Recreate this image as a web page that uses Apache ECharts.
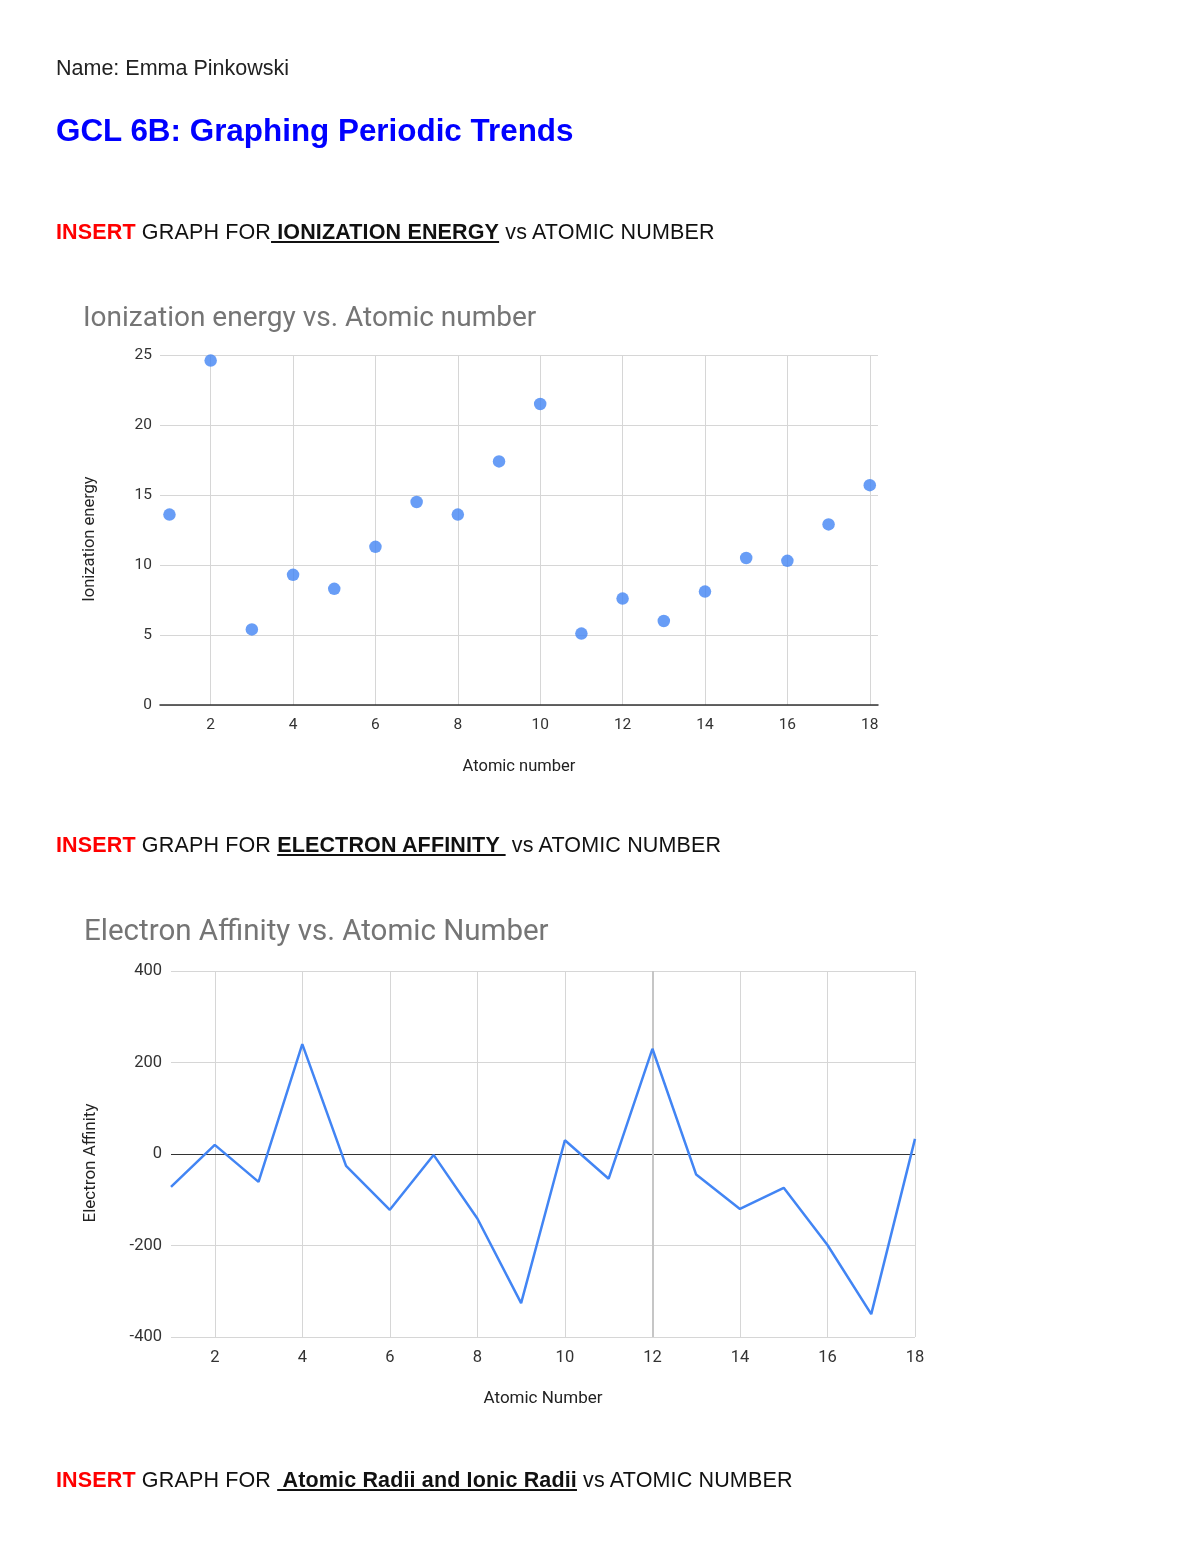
<!DOCTYPE html>
<html>
<head>
<meta charset="utf-8">
<script src="https://cdn.jsdelivr.net/npm/echarts@6/dist/echarts.min.js"></script>
<style>
  html, body { margin: 0; padding: 0; background: #fff; width: 1200px; height: 1553px; overflow: hidden; }
  #chart { position: absolute; left: 0; top: 0; width: 1200px; height: 1553px; }
  .t { position: absolute; left: 56px; font-family: "Liberation Sans", Arial, sans-serif; font-size: 21.5px; line-height: 24px; color: #111; white-space: pre; z-index: 2; }
  .ins { letter-spacing: 0.15px; }
  .title { font-size: 31.4px; line-height: 36px; font-weight: bold; color: #0000ff; }
  .red { color: #ff0000; font-weight: bold; }
  .u { font-weight: bold; text-decoration: underline; }
</style>
</head>
<body>
<div id="chart"></div>
<div class="t" style="top:56px;color:#222">Name: Emma Pinkowski</div>
<div class="t title" style="top:113px">GCL 6B: Graphing Periodic Trends</div>
<div class="t ins" style="top:220px"><span class="red">INSERT</span> GRAPH FOR<span class="u"> IONIZATION ENERGY</span> vs ATOMIC NUMBER</div>
<div class="t ins" style="top:833px"><span class="red">INSERT</span> GRAPH FOR <span class="u">ELECTRON AFFINITY </span> vs ATOMIC NUMBER</div>
<div class="t ins" style="top:1468px"><span class="red">INSERT</span> GRAPH FOR <span class="u"> Atomic Radii and Ionic Radii</span> vs ATOMIC NUMBER</div>
<script>
// ---- data ----
const atomicNumbers = [1, 2, 3, 4, 5, 6, 7, 8, 9, 10, 11, 12, 13, 14, 15, 16, 17, 18];
const ionizationEnergy = [13.6, 24.6, 5.4, 9.3, 8.3, 11.3, 14.5, 13.6, 17.4, 21.5, 5.1, 7.6, 6.0, 8.1, 10.5, 10.3, 12.9, 15.7];
const electronAffinity = [-72, 20, -61, 240, -26, -122, -2, -141, -326, 30, -54, 230, -45, -120, -74, -199, -350, 33];
const xTickValues = [2, 4, 6, 8, 10, 12, 14, 16, 18];
const ieTicks = [0, 5, 10, 15, 20, 25];
const eaTicks = [-400, -200, 0, 200, 400];

const ieData = atomicNumbers.map((n, i) => [n, ionizationEnergy[i]]);
const eaData = atomicNumbers.map((n, i) => [n, electronAffinity[i]]);

const FONT = 'Roboto';
const gridColor = '#d6d6d6';
const labelColor = '#333';
const nameColor = '#222';
const blue = '#4285f4';

const chart = echarts.init(document.getElementById('chart'), null, { renderer: 'canvas' });
chart.setOption({
  animation: false,
  textStyle: { fontFamily: FONT },
  title: [
    { text: 'Ionization energy vs. Atomic number', left: 78, top: 300,
      textStyle: { fontFamily: FONT, fontSize: 28, fontWeight: 'normal', color: '#757575' } },
    { text: 'Electron Affinity vs. Atomic Number', left: 79, top: 913,
      textStyle: { fontFamily: FONT, fontSize: 29.5, fontWeight: 'normal', color: '#757575' } }
  ],
  grid: [
    { left: 160, top: 355, width: 718, height: 350 },
    { left: 171, top: 971, width: 744, height: 366 }
  ],
  xAxis: [
    { type: 'value', gridIndex: 0, min: 0.77, max: 18.2,
      name: 'Atomic number', nameLocation: 'middle', nameGap: 53,
      nameTextStyle: { fontFamily: FONT, fontSize: 16.5, color: nameColor },
      axisLine: { show: true, onZero: false, lineStyle: { color: '#333', width: 1.5 } },
      axisTick: { show: false, customValues: xTickValues },
      axisLabel: { customValues: xTickValues, margin: 12, fontFamily: FONT, fontSize: 15.5, color: labelColor },
      splitLine: { show: true, lineStyle: { color: gridColor, width: 1 } } },
    { type: 'value', gridIndex: 1, min: 1, max: 18,
      name: 'Atomic Number', nameLocation: 'middle', nameGap: 53,
      nameTextStyle: { fontFamily: FONT, fontSize: 17, color: nameColor },
      axisLine: { show: false, onZero: false },
      axisTick: { show: false, customValues: xTickValues },
      axisLabel: { customValues: xTickValues, margin: 12, fontFamily: FONT, fontSize: 16.5, color: labelColor },
      splitLine: { show: true, lineStyle: { color: gridColor, width: 1 } } }
  ],
  yAxis: [
    { type: 'value', gridIndex: 0, min: 0, max: 25, interval: 5,
      name: 'Ionization energy', nameLocation: 'middle', nameGap: 62, nameRotate: 90,
      nameTextStyle: { fontFamily: FONT, fontSize: 16.5, color: nameColor, padding: [0, 18, 0, 0] },
      axisLine: { show: false }, axisTick: { show: false },
      axisLabel: { margin: 8, fontFamily: FONT, fontSize: 15.5, color: labelColor },
      splitLine: { show: true, lineStyle: { color: gridColor, width: 1 } } },
    { type: 'value', gridIndex: 1, min: -400, max: 400, interval: 200,
      name: 'Electron Affinity', nameLocation: 'middle', nameGap: 72, nameRotate: 90,
      nameTextStyle: { fontFamily: FONT, fontSize: 17, color: nameColor, padding: [0, 18, 0, 0] },
      axisLine: { show: false }, axisTick: { show: false },
      axisLabel: { margin: 9, fontFamily: FONT, fontSize: 16.5, color: labelColor },
      splitLine: { show: true, lineStyle: { color: gridColor, width: 1 } } }
  ],
  series: [
    { type: 'scatter', xAxisIndex: 0, yAxisIndex: 0, data: ieData,
      symbolSize: 12.5, itemStyle: { color: blue } },
    { type: 'line', xAxisIndex: 1, yAxisIndex: 1, data: eaData, z: 3,
      showSymbol: false, lineStyle: { color: blue, width: 2.5 },
      markLine: { silent: true, symbol: 'none', label: { show: false }, z: 1,
        lineStyle: { color: '#333', width: 1.2, type: 'solid' },
        data: [
          { yAxis: 0 },
          { xAxis: 12, lineStyle: { color: '#c6c6c6', width: 2 } }
        ] } }
  ]
});
</script>
</body>
</html>
